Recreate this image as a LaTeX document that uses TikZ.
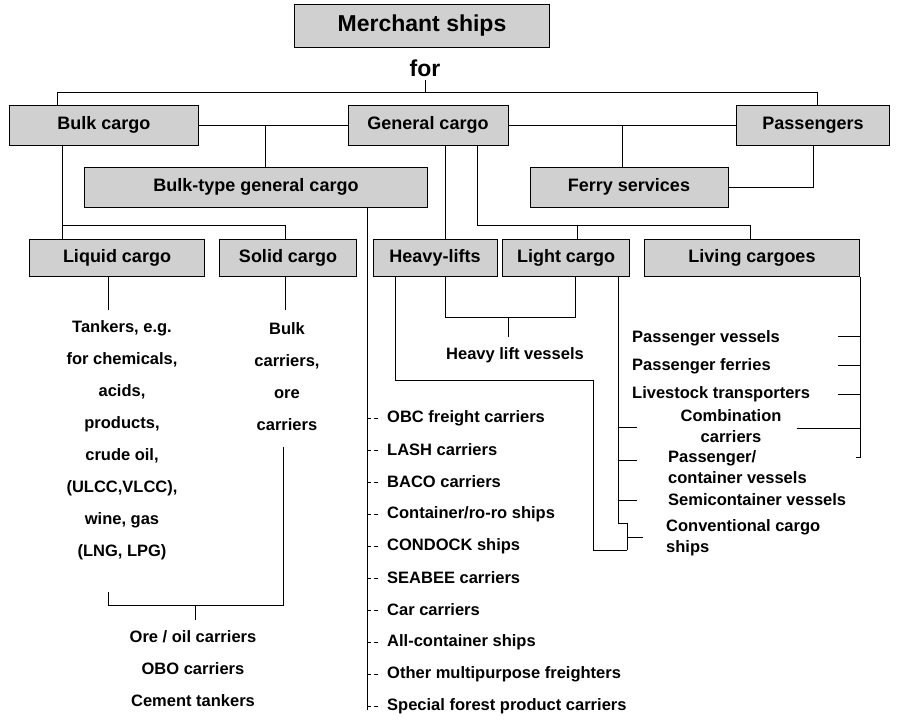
\documentclass[tikz,border=0pt]{standalone}
\usepackage{fontspec}
\setmainfont{Liberation Sans}
\usetikzlibrary{positioning}
\definecolor{boxgray}{HTML}{D0D0D0}
\begin{document}
\begin{tikzpicture}[x=1pt, y=-1pt,
        cat/.style={draw, thick, fill=boxgray, inner sep=0pt, font=\bfseries\fontsize{18}{20}\selectfont},
        item/.style={font=\bfseries\fontsize{16.5}{32}\selectfont, inner sep=0pt},
        link/.style={thick},
        tick/.style={thick, dashed, dash pattern=on 4pt off 3pt}
    ]
        \useasboundingbox[fill=white] (0,0) rectangle (900,720);

        % Top node
        \node[cat, minimum width=255, minimum height=43, font=\bfseries\fontsize{23}{26}\selectfont] (ships) at (422,26) {Merchant ships};
        \node[item, font=\bfseries\fontsize{23}{26}\selectfont] (for) at (425,68) {for};

        % First level
        \node[cat, minimum width=189, minimum height=40] (bulk) at (104,125) {Bulk cargo};
        \node[cat, minimum width=160, minimum height=40] (general) at (428,125) {General cargo};
        \node[cat, minimum width=153, minimum height=40] (pass) at (813,125) {Passengers};

        % Second level
        \node[cat, minimum width=343, minimum height=40] (bulktype) at (256,187) {Bulk-type general cargo};
        \node[cat, minimum width=198, minimum height=40] (ferry) at (629,187) {Ferry services};

        % Third level
        \node[cat, minimum width=175, minimum height=37] (liquid) at (117,258) {Liquid cargo};
        \node[cat, minimum width=137, minimum height=37] (solid) at (288,258) {Solid cargo};
        \node[cat, minimum width=124, minimum height=37] (heavy) at (435,258) {Heavy-lifts};
        \node[cat, minimum width=127, minimum height=37] (light) at (566,258) {Light cargo};
        \node[cat, minimum width=215, minimum height=37] (living) at (752,258) {Living cargoes};

        % Connections at the top
        \draw[link] (425,80) -- (425,92);
        \draw[link] (57,92) -- (817,92);
        \draw[link] (57,92) -- (57,105);
        \draw[link] (817,92) -- (817,105);
        \draw[link] (bulk.east) -- (general.west);
        \draw[link] (general.east) -- (pass.west);
        \draw[link] (265,125) -- (bulktype.north -| 265,0);
        \draw[link] (622,125) -- (ferry.north -| 622,0);
        \draw[link] (pass.south) |- (ferry.east);

        % Bulk cargo branches
        \draw[link] (bulk.south -| 62,0) -- (62,225) -- (285,225) -- (solid.north -| 285,0);
        \draw[link] (62,225) -- (liquid.north -| 62,0);

        % General cargo branches
        \draw[link] (general.south -| 445,0) -- (heavy.north -| 445,0);
        \draw[link] (general.south -| 477,0) -- (477,225) -- (750,225) -- (living.north -| 750,0);
        \draw[link] (577,225) -- (light.north -| 577,0);

        % Liquid / solid
        \node[item, align=center] (tankers) at (122,440) {Tankers, e.g.\\for chemicals,\\acids,\\products,\\crude oil,\\(ULCC,VLCC),\\wine, gas\\(LNG, LPG)};
        \node[item, align=center] (bulkcar) at (287,377) {Bulk\\carriers,\\ore\\carriers};
        \draw[link] (liquid.south -| 108,0) -- (108,310);
        \draw[link] (solid.south -| 285,0) -- (285,310);
        \draw[link] (108,592) -- (108,605) -- (283,605) -- (283,447);
        \draw[link] (195,605) -- (195,620);
        \node[item, align=center] (oreoil) at (193,669) {Ore / oil carriers\\OBO carriers\\Cement tankers};

        % Heavy lift vessels
        \node[item] (hlv) at (515,355) {Heavy lift vessels};
        \draw[link] (heavy.south -| 445,0) -- (445,317) -- (575,317) -- (light.south -| 575,0);
        \draw[link] (508,317) -- (508,337);

        % Bulk-type general cargo list
        \draw[link] (bulktype.south -| 367,0) -- (367,710);
        \foreach \name [count=\i from 0] in {OBC freight carriers, LASH carriers, BACO carriers,
            Container/ro-ro ships, CONDOCK ships, SEABEE carriers, Car carriers,
            All-container ships, Other multipurpose freighters, Special forest product carriers} {
            \draw[tick] (367,418+32*\i) -- (381,418+32*\i);
            \node[item, anchor=west] (list\i) at (387,418+32*\i) {\name};
        }

        % Living cargoes
        \node[item, anchor=west] (pv) at (632,338) {Passenger vessels};
        \node[item, anchor=west] (pf) at (632,366) {Passenger ferries};
        \node[item, anchor=west] (lt) at (632,394) {Livestock transporters};
        \node[item, align=center, font=\bfseries\fontsize{16.5}{21}\selectfont] (comb) at (731,426) {Combination\\carriers};
        \node[item, align=left, anchor=west, font=\bfseries\fontsize{16.5}{21}\selectfont] (pcv) at (668,467) {Passenger/\\container vessels};
        \node[item, anchor=west] (scv) at (668,500) {Semicontainer vessels};
        \node[item, align=left, anchor=west, font=\bfseries\fontsize{16.5}{21}\selectfont] (ccs) at (666,538) {Conventional cargo\\ships};
        \draw[link] (living.south -| 860,0) -- (860,457) -- (856,457);
        \foreach \y in {336,365,394} \draw[link] (860,\y) -- (838,\y);
        \draw[link] (860,428) -- (797,428);

        % Light cargo and heavy-lifts to the cargo ships
        \draw[link] (light.south -| 618,0) -- (618,523) -- (627,523) -- (627,550);
        \foreach \y in {427,460,500} \draw[link] (618,\y) -- (637,\y);
        \draw[link] (heavy.south -| 395,0) -- (395,380) -- (593,380) -- (593,550) -- (627,550);
        \draw[link] (627,537) -- (643,537);
    \end{tikzpicture}
\end{document}
